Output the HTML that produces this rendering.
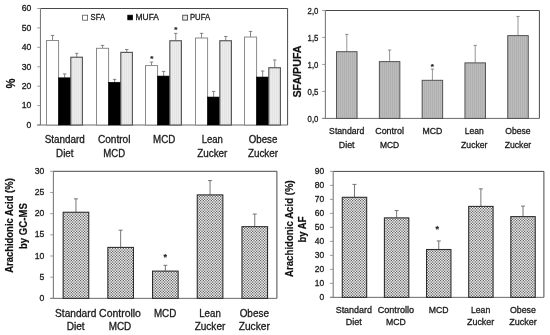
<!DOCTYPE html>
<html lang="en">
<head>
<meta charset="utf-8">
<title>Fatty acid composition charts</title>
<style>
html,body{margin:0;padding:0;background:#fff;}
body{width:550px;height:335px;overflow:hidden;}
svg{display:block;font-family:"Liberation Sans", sans-serif;}
</style>
</head>
<body>
<svg width="550" height="335" viewBox="0 0 550 335">
<defs>
<pattern id="pufa" width="2" height="2" patternUnits="userSpaceOnUse">
<rect width="2" height="2" fill="#ececec"/>
<rect width="1" height="2" fill="#e3e3e3"/>
</pattern>
<pattern id="vstripe" width="2" height="2" patternUnits="userSpaceOnUse">
<rect width="2" height="2" fill="#bcbcbc"/>
<rect width="1" height="2" fill="#b0b0b0"/>
</pattern>
<pattern id="check" width="8" height="8" patternUnits="userSpaceOnUse">
<rect width="8" height="8" fill="#f4f4f4"/>
<g fill="#4a4a4a"><rect x="0.092" y="0.092" width="1.150" height="1.150"/><rect x="1.425" y="1.425" width="1.150" height="1.150"/><rect x="0.092" y="2.758" width="1.150" height="1.150"/><rect x="1.425" y="4.092" width="1.150" height="1.150"/><rect x="0.092" y="5.425" width="1.150" height="1.150"/><rect x="1.425" y="6.758" width="1.150" height="1.150"/><rect x="2.758" y="0.092" width="1.150" height="1.150"/><rect x="4.092" y="1.425" width="1.150" height="1.150"/><rect x="2.758" y="2.758" width="1.150" height="1.150"/><rect x="4.092" y="4.092" width="1.150" height="1.150"/><rect x="2.758" y="5.425" width="1.150" height="1.150"/><rect x="4.092" y="6.758" width="1.150" height="1.150"/><rect x="5.425" y="0.092" width="1.150" height="1.150"/><rect x="6.758" y="1.425" width="1.150" height="1.150"/><rect x="5.425" y="2.758" width="1.150" height="1.150"/><rect x="6.758" y="4.092" width="1.150" height="1.150"/><rect x="5.425" y="5.425" width="1.150" height="1.150"/><rect x="6.758" y="6.758" width="1.150" height="1.150"/></g>
</pattern>
</defs>
<rect width="550" height="335" fill="#ffffff"/>
<polyline points="40.45,8.50 287.60,8.50 287.60,125.00" fill="none" stroke="#484848" stroke-width="1"/>
<line x1="40.45" y1="8.00" x2="40.45" y2="125.00" stroke="#7c7c7c" stroke-width="1.1"/>
<line x1="37.25" y1="125.00" x2="287.60" y2="125.00" stroke="#6a6a6a" stroke-width="1"/>
<line x1="37.25" y1="125.00" x2="40.45" y2="125.00" stroke="#8c8c8c" stroke-width="0.85"/>
<line x1="37.25" y1="105.58" x2="40.45" y2="105.58" stroke="#8c8c8c" stroke-width="0.85"/>
<line x1="37.25" y1="86.17" x2="40.45" y2="86.17" stroke="#8c8c8c" stroke-width="0.85"/>
<line x1="37.25" y1="66.75" x2="40.45" y2="66.75" stroke="#8c8c8c" stroke-width="0.85"/>
<line x1="37.25" y1="47.33" x2="40.45" y2="47.33" stroke="#8c8c8c" stroke-width="0.85"/>
<line x1="37.25" y1="27.92" x2="40.45" y2="27.92" stroke="#8c8c8c" stroke-width="0.85"/>
<line x1="37.25" y1="8.50" x2="40.45" y2="8.50" stroke="#8c8c8c" stroke-width="0.85"/>
<text x="31.40" y="127.90" font-size="8.8" text-anchor="end" fill="#1a1a1a" stroke="#1a1a1a" stroke-width="0.3" textLength="4.80" lengthAdjust="spacingAndGlyphs">0</text>
<text x="31.40" y="108.48" font-size="8.8" text-anchor="end" fill="#1a1a1a" stroke="#1a1a1a" stroke-width="0.3" textLength="9.60" lengthAdjust="spacingAndGlyphs">10</text>
<text x="31.40" y="89.07" font-size="8.8" text-anchor="end" fill="#1a1a1a" stroke="#1a1a1a" stroke-width="0.3" textLength="9.60" lengthAdjust="spacingAndGlyphs">20</text>
<text x="31.40" y="69.65" font-size="8.8" text-anchor="end" fill="#1a1a1a" stroke="#1a1a1a" stroke-width="0.3" textLength="9.60" lengthAdjust="spacingAndGlyphs">30</text>
<text x="31.40" y="50.23" font-size="8.8" text-anchor="end" fill="#1a1a1a" stroke="#1a1a1a" stroke-width="0.3" textLength="9.60" lengthAdjust="spacingAndGlyphs">40</text>
<text x="31.40" y="30.82" font-size="8.8" text-anchor="end" fill="#1a1a1a" stroke="#1a1a1a" stroke-width="0.3" textLength="9.60" lengthAdjust="spacingAndGlyphs">50</text>
<text x="31.40" y="11.40" font-size="8.8" text-anchor="end" fill="#1a1a1a" stroke="#1a1a1a" stroke-width="0.3" textLength="9.60" lengthAdjust="spacingAndGlyphs">60</text>
<line x1="52.55" y1="40.54" x2="52.55" y2="35.49" stroke="#777" stroke-width="0.9"/>
<line x1="50.85" y1="35.49" x2="54.25" y2="35.49" stroke="#777" stroke-width="0.9"/>
<rect x="46.50" y="40.54" width="12.10" height="84.46" fill="#ffffff" stroke="#858585" stroke-width="0.95"/>
<line x1="64.65" y1="77.82" x2="64.65" y2="73.93" stroke="#777" stroke-width="0.9"/>
<line x1="62.95" y1="73.93" x2="66.35" y2="73.93" stroke="#777" stroke-width="0.9"/>
<rect x="58.60" y="77.82" width="12.10" height="47.18" fill="#000000" stroke="#000000" stroke-width="0.6"/>
<line x1="76.75" y1="57.04" x2="76.75" y2="53.35" stroke="#777" stroke-width="0.9"/>
<line x1="75.05" y1="53.35" x2="78.45" y2="53.35" stroke="#777" stroke-width="0.9"/>
<rect x="70.80" y="57.24" width="11.60" height="67.76" fill="url(#pufa)" stroke="#555555" stroke-width="1.15"/>
<line x1="102.55" y1="48.30" x2="102.55" y2="45.39" stroke="#777" stroke-width="0.9"/>
<line x1="100.85" y1="45.39" x2="104.25" y2="45.39" stroke="#777" stroke-width="0.9"/>
<rect x="96.50" y="48.30" width="12.10" height="76.70" fill="#ffffff" stroke="#858585" stroke-width="0.95"/>
<line x1="114.65" y1="82.28" x2="114.65" y2="79.37" stroke="#777" stroke-width="0.9"/>
<line x1="112.95" y1="79.37" x2="116.35" y2="79.37" stroke="#777" stroke-width="0.9"/>
<rect x="108.60" y="82.28" width="12.10" height="42.72" fill="#000000" stroke="#000000" stroke-width="0.6"/>
<line x1="126.75" y1="52.19" x2="126.75" y2="49.47" stroke="#777" stroke-width="0.9"/>
<line x1="125.05" y1="49.47" x2="128.45" y2="49.47" stroke="#777" stroke-width="0.9"/>
<rect x="120.80" y="52.39" width="11.60" height="72.61" fill="url(#pufa)" stroke="#555555" stroke-width="1.15"/>
<line x1="151.55" y1="65.59" x2="151.55" y2="62.09" stroke="#777" stroke-width="0.9"/>
<line x1="149.85" y1="62.09" x2="153.25" y2="62.09" stroke="#777" stroke-width="0.9"/>
<rect x="145.50" y="65.59" width="12.10" height="59.41" fill="#ffffff" stroke="#858585" stroke-width="0.95"/>
<line x1="163.65" y1="76.07" x2="163.65" y2="71.41" stroke="#777" stroke-width="0.9"/>
<line x1="161.95" y1="71.41" x2="165.35" y2="71.41" stroke="#777" stroke-width="0.9"/>
<rect x="157.60" y="76.07" width="12.10" height="48.93" fill="#000000" stroke="#000000" stroke-width="0.6"/>
<line x1="175.75" y1="40.54" x2="175.75" y2="33.35" stroke="#777" stroke-width="0.9"/>
<line x1="174.05" y1="33.35" x2="177.45" y2="33.35" stroke="#777" stroke-width="0.9"/>
<rect x="169.80" y="40.74" width="11.60" height="84.26" fill="url(#pufa)" stroke="#555555" stroke-width="1.15"/>
<line x1="201.55" y1="38.01" x2="201.55" y2="33.35" stroke="#777" stroke-width="0.9"/>
<line x1="199.85" y1="33.35" x2="203.25" y2="33.35" stroke="#777" stroke-width="0.9"/>
<rect x="195.50" y="38.01" width="12.10" height="86.99" fill="#ffffff" stroke="#858585" stroke-width="0.95"/>
<line x1="213.65" y1="97.04" x2="213.65" y2="91.41" stroke="#777" stroke-width="0.9"/>
<line x1="211.95" y1="91.41" x2="215.35" y2="91.41" stroke="#777" stroke-width="0.9"/>
<rect x="207.60" y="97.04" width="12.10" height="27.96" fill="#000000" stroke="#000000" stroke-width="0.6"/>
<line x1="225.75" y1="40.54" x2="225.75" y2="36.46" stroke="#777" stroke-width="0.9"/>
<line x1="224.05" y1="36.46" x2="227.45" y2="36.46" stroke="#777" stroke-width="0.9"/>
<rect x="219.80" y="40.74" width="11.60" height="84.26" fill="url(#pufa)" stroke="#555555" stroke-width="1.15"/>
<line x1="250.55" y1="37.04" x2="250.55" y2="31.41" stroke="#777" stroke-width="0.9"/>
<line x1="248.85" y1="31.41" x2="252.25" y2="31.41" stroke="#777" stroke-width="0.9"/>
<rect x="244.50" y="37.04" width="12.10" height="87.96" fill="#ffffff" stroke="#858585" stroke-width="0.95"/>
<line x1="262.65" y1="77.04" x2="262.65" y2="71.02" stroke="#777" stroke-width="0.9"/>
<line x1="260.95" y1="71.02" x2="264.35" y2="71.02" stroke="#777" stroke-width="0.9"/>
<rect x="256.60" y="77.04" width="12.10" height="47.96" fill="#000000" stroke="#000000" stroke-width="0.6"/>
<line x1="274.75" y1="67.53" x2="274.75" y2="59.95" stroke="#777" stroke-width="0.9"/>
<line x1="273.05" y1="59.95" x2="276.45" y2="59.95" stroke="#777" stroke-width="0.9"/>
<rect x="268.80" y="67.73" width="11.60" height="57.27" fill="url(#pufa)" stroke="#555555" stroke-width="1.15"/>
<text x="151.80" y="61.30" font-size="8" text-anchor="middle" fill="#222" font-weight="bold" stroke="#222" stroke-width="0.2">*</text>
<text x="175.80" y="32.40" font-size="8" text-anchor="middle" fill="#222" font-weight="bold" stroke="#222" stroke-width="0.2">*</text>
<rect x="82.60" y="15.20" width="5.00" height="5.00" fill="#fff" stroke="#555" stroke-width="0.8"/>
<text x="90.60" y="20.10" font-size="8.6" text-anchor="start" fill="#1a1a1a" stroke="#1a1a1a" stroke-width="0.3" textLength="14.40" lengthAdjust="spacingAndGlyphs">SFA</text>
<rect x="127.80" y="15.20" width="4.60" height="4.60" fill="#000" stroke="#000" stroke-width="0.8"/>
<text x="135.60" y="20.10" font-size="8.6" text-anchor="start" fill="#1a1a1a" stroke="#1a1a1a" stroke-width="0.3" textLength="23.40" lengthAdjust="spacingAndGlyphs">MUFA</text>
<rect x="182.70" y="15.20" width="4.90" height="4.90" fill="url(#pufa)" stroke="#444" stroke-width="0.9"/>
<text x="190.00" y="20.10" font-size="8.6" text-anchor="start" fill="#1a1a1a" stroke="#1a1a1a" stroke-width="0.3" textLength="20.00" lengthAdjust="spacingAndGlyphs">PUFA</text>
<text x="15.20" y="83.50" font-size="12.4" text-anchor="middle" fill="#111" font-weight="bold" stroke="#111" stroke-width="0.2" textLength="10.00" lengthAdjust="spacingAndGlyphs" transform="rotate(-90 15.20 83.50)">%</text>
<text x="64.80" y="142.70" font-size="10.0" text-anchor="middle" fill="#1a1a1a" stroke="#1a1a1a" stroke-width="0.3" textLength="40.20" lengthAdjust="spacingAndGlyphs">Standard</text>
<text x="64.80" y="156.60" font-size="10.0" text-anchor="middle" fill="#1a1a1a" stroke="#1a1a1a" stroke-width="0.3" textLength="17.40" lengthAdjust="spacingAndGlyphs">Diet</text>
<text x="114.20" y="142.70" font-size="10.0" text-anchor="middle" fill="#1a1a1a" stroke="#1a1a1a" stroke-width="0.3" textLength="32.60" lengthAdjust="spacingAndGlyphs">Control</text>
<text x="114.20" y="156.60" font-size="10.0" text-anchor="middle" fill="#1a1a1a" stroke="#1a1a1a" stroke-width="0.3" textLength="21.80" lengthAdjust="spacingAndGlyphs">MCD</text>
<text x="164.20" y="142.70" font-size="10.0" text-anchor="middle" fill="#1a1a1a" stroke="#1a1a1a" stroke-width="0.3" textLength="22.20" lengthAdjust="spacingAndGlyphs">MCD</text>
<text x="212.30" y="142.70" font-size="10.0" text-anchor="middle" fill="#1a1a1a" stroke="#1a1a1a" stroke-width="0.3" textLength="21.20" lengthAdjust="spacingAndGlyphs">Lean</text>
<text x="212.30" y="156.60" font-size="10.0" text-anchor="middle" fill="#1a1a1a" stroke="#1a1a1a" stroke-width="0.3" textLength="30.20" lengthAdjust="spacingAndGlyphs">Zucker</text>
<text x="263.00" y="142.70" font-size="10.0" text-anchor="middle" fill="#1a1a1a" stroke="#1a1a1a" stroke-width="0.3" textLength="28.60" lengthAdjust="spacingAndGlyphs">Obese</text>
<text x="263.00" y="156.60" font-size="10.0" text-anchor="middle" fill="#1a1a1a" stroke="#1a1a1a" stroke-width="0.3" textLength="30.20" lengthAdjust="spacingAndGlyphs">Zucker</text>
<polyline points="325.40,10.50 539.40,10.50 539.40,118.40" fill="none" stroke="#484848" stroke-width="1"/>
<line x1="325.40" y1="10.00" x2="325.40" y2="118.40" stroke="#7c7c7c" stroke-width="1.1"/>
<line x1="322.20" y1="118.40" x2="539.40" y2="118.40" stroke="#6a6a6a" stroke-width="1"/>
<line x1="322.20" y1="118.40" x2="325.40" y2="118.40" stroke="#8c8c8c" stroke-width="0.85"/>
<line x1="322.20" y1="91.43" x2="325.40" y2="91.43" stroke="#8c8c8c" stroke-width="0.85"/>
<line x1="322.20" y1="64.45" x2="325.40" y2="64.45" stroke="#8c8c8c" stroke-width="0.85"/>
<line x1="322.20" y1="37.47" x2="325.40" y2="37.47" stroke="#8c8c8c" stroke-width="0.85"/>
<line x1="322.20" y1="10.50" x2="325.40" y2="10.50" stroke="#8c8c8c" stroke-width="0.85"/>
<text x="318.40" y="121.50" font-size="8.5" text-anchor="end" fill="#1a1a1a" stroke="#1a1a1a" stroke-width="0.3" textLength="10.80" lengthAdjust="spacingAndGlyphs">0,0</text>
<text x="318.40" y="94.53" font-size="8.5" text-anchor="end" fill="#1a1a1a" stroke="#1a1a1a" stroke-width="0.3" textLength="10.80" lengthAdjust="spacingAndGlyphs">0,5</text>
<text x="318.40" y="67.55" font-size="8.5" text-anchor="end" fill="#1a1a1a" stroke="#1a1a1a" stroke-width="0.3" textLength="10.80" lengthAdjust="spacingAndGlyphs">1,0</text>
<text x="318.40" y="40.57" font-size="8.5" text-anchor="end" fill="#1a1a1a" stroke="#1a1a1a" stroke-width="0.3" textLength="10.80" lengthAdjust="spacingAndGlyphs">1,5</text>
<text x="318.40" y="13.60" font-size="8.5" text-anchor="end" fill="#1a1a1a" stroke="#1a1a1a" stroke-width="0.3" textLength="10.80" lengthAdjust="spacingAndGlyphs">2,0</text>
<line x1="346.80" y1="51.50" x2="346.80" y2="34.40" stroke="#707070" stroke-width="0.75"/>
<line x1="345.10" y1="34.40" x2="348.50" y2="34.40" stroke="#707070" stroke-width="0.75"/>
<rect x="336.55" y="51.70" width="20.50" height="66.70" fill="url(#vstripe)" stroke="#4c4c4c" stroke-width="0.95"/>
<line x1="389.60" y1="61.43" x2="389.60" y2="50.05" stroke="#707070" stroke-width="0.75"/>
<line x1="387.90" y1="50.05" x2="391.30" y2="50.05" stroke="#707070" stroke-width="0.75"/>
<rect x="379.35" y="61.63" width="20.50" height="56.77" fill="url(#vstripe)" stroke="#4c4c4c" stroke-width="0.95"/>
<line x1="432.40" y1="80.10" x2="432.40" y2="69.04" stroke="#707070" stroke-width="0.75"/>
<line x1="430.70" y1="69.04" x2="434.10" y2="69.04" stroke="#707070" stroke-width="0.75"/>
<rect x="422.15" y="80.30" width="20.50" height="38.10" fill="url(#vstripe)" stroke="#4c4c4c" stroke-width="0.95"/>
<line x1="475.20" y1="62.67" x2="475.20" y2="45.41" stroke="#707070" stroke-width="0.75"/>
<line x1="473.50" y1="45.41" x2="476.90" y2="45.41" stroke="#707070" stroke-width="0.75"/>
<rect x="464.95" y="62.87" width="20.50" height="55.53" fill="url(#vstripe)" stroke="#4c4c4c" stroke-width="0.95"/>
<line x1="518.00" y1="35.42" x2="518.00" y2="16.43" stroke="#707070" stroke-width="0.75"/>
<line x1="516.30" y1="16.43" x2="519.70" y2="16.43" stroke="#707070" stroke-width="0.75"/>
<rect x="507.75" y="35.62" width="20.50" height="82.78" fill="url(#vstripe)" stroke="#4c4c4c" stroke-width="0.95"/>
<text x="432.20" y="68.60" font-size="8" text-anchor="middle" fill="#222" font-weight="bold" stroke="#222" stroke-width="0.2">*</text>
<text x="301.20" y="71.50" font-size="10.8" text-anchor="middle" fill="#111" font-weight="bold" stroke="#111" stroke-width="0.2" textLength="52.00" lengthAdjust="spacingAndGlyphs" transform="rotate(-90 301.20 71.50)">SFA/PUFA</text>
<text x="346.70" y="134.45" font-size="9.0" text-anchor="middle" fill="#1a1a1a" stroke="#1a1a1a" stroke-width="0.3" textLength="35.20" lengthAdjust="spacingAndGlyphs">Standard</text>
<text x="346.70" y="147.50" font-size="9.0" text-anchor="middle" fill="#1a1a1a" stroke="#1a1a1a" stroke-width="0.3" textLength="15.80" lengthAdjust="spacingAndGlyphs">Diet</text>
<text x="389.60" y="134.45" font-size="9.0" text-anchor="middle" fill="#1a1a1a" stroke="#1a1a1a" stroke-width="0.3" textLength="28.80" lengthAdjust="spacingAndGlyphs">Control</text>
<text x="389.60" y="147.50" font-size="9.0" text-anchor="middle" fill="#1a1a1a" stroke="#1a1a1a" stroke-width="0.3" textLength="19.20" lengthAdjust="spacingAndGlyphs">MCD</text>
<text x="432.40" y="134.45" font-size="9.0" text-anchor="middle" fill="#1a1a1a" stroke="#1a1a1a" stroke-width="0.3" textLength="19.80" lengthAdjust="spacingAndGlyphs">MCD</text>
<text x="474.30" y="134.45" font-size="9.0" text-anchor="middle" fill="#1a1a1a" stroke="#1a1a1a" stroke-width="0.3" textLength="19.00" lengthAdjust="spacingAndGlyphs">Lean</text>
<text x="474.30" y="147.50" font-size="9.0" text-anchor="middle" fill="#1a1a1a" stroke="#1a1a1a" stroke-width="0.3" textLength="26.40" lengthAdjust="spacingAndGlyphs">Zucker</text>
<text x="517.90" y="134.45" font-size="9.0" text-anchor="middle" fill="#1a1a1a" stroke="#1a1a1a" stroke-width="0.3" textLength="25.20" lengthAdjust="spacingAndGlyphs">Obese</text>
<text x="517.90" y="147.50" font-size="9.0" text-anchor="middle" fill="#1a1a1a" stroke="#1a1a1a" stroke-width="0.3" textLength="26.40" lengthAdjust="spacingAndGlyphs">Zucker</text>
<polyline points="53.40,171.30 276.90,171.30 276.90,298.35" fill="none" stroke="#484848" stroke-width="1"/>
<line x1="53.40" y1="170.80" x2="53.40" y2="298.35" stroke="#7c7c7c" stroke-width="1.1"/>
<line x1="50.20" y1="298.35" x2="276.90" y2="298.35" stroke="#6a6a6a" stroke-width="1"/>
<line x1="50.20" y1="298.35" x2="53.40" y2="298.35" stroke="#8c8c8c" stroke-width="0.85"/>
<line x1="50.20" y1="277.18" x2="53.40" y2="277.18" stroke="#8c8c8c" stroke-width="0.85"/>
<line x1="50.20" y1="256.00" x2="53.40" y2="256.00" stroke="#8c8c8c" stroke-width="0.85"/>
<line x1="50.20" y1="234.83" x2="53.40" y2="234.83" stroke="#8c8c8c" stroke-width="0.85"/>
<line x1="50.20" y1="213.65" x2="53.40" y2="213.65" stroke="#8c8c8c" stroke-width="0.85"/>
<line x1="50.20" y1="192.48" x2="53.40" y2="192.48" stroke="#8c8c8c" stroke-width="0.85"/>
<line x1="50.20" y1="171.30" x2="53.40" y2="171.30" stroke="#8c8c8c" stroke-width="0.85"/>
<text x="44.30" y="300.95" font-size="8.9" text-anchor="end" fill="#1a1a1a" stroke="#1a1a1a" stroke-width="0.3" textLength="4.80" lengthAdjust="spacingAndGlyphs">0</text>
<text x="44.30" y="279.78" font-size="8.9" text-anchor="end" fill="#1a1a1a" stroke="#1a1a1a" stroke-width="0.3" textLength="4.80" lengthAdjust="spacingAndGlyphs">5</text>
<text x="44.30" y="258.60" font-size="8.9" text-anchor="end" fill="#1a1a1a" stroke="#1a1a1a" stroke-width="0.3" textLength="9.60" lengthAdjust="spacingAndGlyphs">10</text>
<text x="44.30" y="237.43" font-size="8.9" text-anchor="end" fill="#1a1a1a" stroke="#1a1a1a" stroke-width="0.3" textLength="9.60" lengthAdjust="spacingAndGlyphs">15</text>
<text x="44.30" y="216.25" font-size="8.9" text-anchor="end" fill="#1a1a1a" stroke="#1a1a1a" stroke-width="0.3" textLength="9.60" lengthAdjust="spacingAndGlyphs">20</text>
<text x="44.30" y="195.08" font-size="8.9" text-anchor="end" fill="#1a1a1a" stroke="#1a1a1a" stroke-width="0.3" textLength="9.60" lengthAdjust="spacingAndGlyphs">25</text>
<text x="44.30" y="173.90" font-size="8.9" text-anchor="end" fill="#1a1a1a" stroke="#1a1a1a" stroke-width="0.3" textLength="9.60" lengthAdjust="spacingAndGlyphs">30</text>
<line x1="75.95" y1="211.96" x2="75.95" y2="198.83" stroke="#666" stroke-width="0.9"/>
<line x1="73.95" y1="198.83" x2="77.95" y2="198.83" stroke="#666" stroke-width="0.9"/>
<rect x="63.15" y="212.26" width="25.60" height="86.09" fill="url(#check)" stroke="#2e2e2e" stroke-width="1.1"/>
<line x1="120.65" y1="247.11" x2="120.65" y2="230.17" stroke="#666" stroke-width="0.9"/>
<line x1="118.65" y1="230.17" x2="122.65" y2="230.17" stroke="#666" stroke-width="0.9"/>
<rect x="107.85" y="247.41" width="25.60" height="50.94" fill="url(#check)" stroke="#2e2e2e" stroke-width="1.1"/>
<line x1="165.35" y1="270.82" x2="165.35" y2="265.32" stroke="#666" stroke-width="0.9"/>
<line x1="163.35" y1="265.32" x2="167.35" y2="265.32" stroke="#666" stroke-width="0.9"/>
<rect x="152.55" y="271.12" width="25.60" height="27.23" fill="url(#check)" stroke="#2e2e2e" stroke-width="1.1"/>
<line x1="210.05" y1="194.59" x2="210.05" y2="180.62" stroke="#666" stroke-width="0.9"/>
<line x1="208.05" y1="180.62" x2="212.05" y2="180.62" stroke="#666" stroke-width="0.9"/>
<rect x="197.25" y="194.89" width="25.60" height="103.46" fill="url(#check)" stroke="#2e2e2e" stroke-width="1.1"/>
<line x1="254.75" y1="226.36" x2="254.75" y2="214.07" stroke="#666" stroke-width="0.9"/>
<line x1="252.75" y1="214.07" x2="256.75" y2="214.07" stroke="#666" stroke-width="0.9"/>
<rect x="241.95" y="226.66" width="25.60" height="71.70" fill="url(#check)" stroke="#2e2e2e" stroke-width="1.1"/>
<text x="165.30" y="259.70" font-size="9" text-anchor="middle" fill="#222" font-weight="bold" stroke="#222" stroke-width="0.2">*</text>
<text x="12.70" y="225.50" font-size="10.6" text-anchor="middle" fill="#111" font-weight="bold" stroke="#111" stroke-width="0.2" textLength="94.60" lengthAdjust="spacingAndGlyphs" transform="rotate(-90 12.70 225.50)">Arachidonic Acid (%)</text>
<text x="26.70" y="226.10" font-size="10.6" text-anchor="middle" fill="#111" font-weight="bold" stroke="#111" stroke-width="0.2" textLength="45.80" lengthAdjust="spacingAndGlyphs" transform="rotate(-90 26.70 226.10)">by GC-MS</text>
<text x="75.70" y="316.60" font-size="10.4" text-anchor="middle" fill="#1a1a1a" stroke="#1a1a1a" stroke-width="0.3" textLength="41.20" lengthAdjust="spacingAndGlyphs">Standard</text>
<text x="75.70" y="330.00" font-size="10.4" text-anchor="middle" fill="#1a1a1a" stroke="#1a1a1a" stroke-width="0.3" textLength="18.00" lengthAdjust="spacingAndGlyphs">Diet</text>
<text x="120.00" y="316.60" font-size="10.4" text-anchor="middle" fill="#1a1a1a" stroke="#1a1a1a" stroke-width="0.3" textLength="41.80" lengthAdjust="spacingAndGlyphs">Controllo</text>
<text x="120.00" y="330.00" font-size="10.4" text-anchor="middle" fill="#1a1a1a" stroke="#1a1a1a" stroke-width="0.3" textLength="22.60" lengthAdjust="spacingAndGlyphs">MCD</text>
<text x="165.10" y="316.60" font-size="10.4" text-anchor="middle" fill="#1a1a1a" stroke="#1a1a1a" stroke-width="0.3" textLength="22.40" lengthAdjust="spacingAndGlyphs">MCD</text>
<text x="210.00" y="316.60" font-size="10.4" text-anchor="middle" fill="#1a1a1a" stroke="#1a1a1a" stroke-width="0.3" textLength="21.60" lengthAdjust="spacingAndGlyphs">Lean</text>
<text x="210.00" y="330.00" font-size="10.4" text-anchor="middle" fill="#1a1a1a" stroke="#1a1a1a" stroke-width="0.3" textLength="30.60" lengthAdjust="spacingAndGlyphs">Zucker</text>
<text x="254.30" y="316.60" font-size="10.4" text-anchor="middle" fill="#1a1a1a" stroke="#1a1a1a" stroke-width="0.3" textLength="29.30" lengthAdjust="spacingAndGlyphs">Obese</text>
<text x="254.30" y="330.00" font-size="10.4" text-anchor="middle" fill="#1a1a1a" stroke="#1a1a1a" stroke-width="0.3" textLength="31.10" lengthAdjust="spacingAndGlyphs">Zucker</text>
<polyline points="333.20,171.40 543.90,171.40 543.90,297.35" fill="none" stroke="#484848" stroke-width="1"/>
<line x1="333.20" y1="170.90" x2="333.20" y2="297.35" stroke="#7c7c7c" stroke-width="1.1"/>
<line x1="330.00" y1="297.35" x2="543.90" y2="297.35" stroke="#6a6a6a" stroke-width="1"/>
<line x1="330.00" y1="297.35" x2="333.20" y2="297.35" stroke="#8c8c8c" stroke-width="0.85"/>
<line x1="330.00" y1="283.36" x2="333.20" y2="283.36" stroke="#8c8c8c" stroke-width="0.85"/>
<line x1="330.00" y1="269.36" x2="333.20" y2="269.36" stroke="#8c8c8c" stroke-width="0.85"/>
<line x1="330.00" y1="255.37" x2="333.20" y2="255.37" stroke="#8c8c8c" stroke-width="0.85"/>
<line x1="330.00" y1="241.37" x2="333.20" y2="241.37" stroke="#8c8c8c" stroke-width="0.85"/>
<line x1="330.00" y1="227.38" x2="333.20" y2="227.38" stroke="#8c8c8c" stroke-width="0.85"/>
<line x1="330.00" y1="213.38" x2="333.20" y2="213.38" stroke="#8c8c8c" stroke-width="0.85"/>
<line x1="330.00" y1="199.39" x2="333.20" y2="199.39" stroke="#8c8c8c" stroke-width="0.85"/>
<line x1="330.00" y1="185.39" x2="333.20" y2="185.39" stroke="#8c8c8c" stroke-width="0.85"/>
<line x1="330.00" y1="171.40" x2="333.20" y2="171.40" stroke="#8c8c8c" stroke-width="0.85"/>
<text x="324.10" y="300.25" font-size="8.8" text-anchor="end" fill="#1a1a1a" stroke="#1a1a1a" stroke-width="0.3" textLength="4.70" lengthAdjust="spacingAndGlyphs">0</text>
<text x="324.10" y="286.26" font-size="8.8" text-anchor="end" fill="#1a1a1a" stroke="#1a1a1a" stroke-width="0.3" textLength="9.40" lengthAdjust="spacingAndGlyphs">10</text>
<text x="324.10" y="272.26" font-size="8.8" text-anchor="end" fill="#1a1a1a" stroke="#1a1a1a" stroke-width="0.3" textLength="9.40" lengthAdjust="spacingAndGlyphs">20</text>
<text x="324.10" y="258.27" font-size="8.8" text-anchor="end" fill="#1a1a1a" stroke="#1a1a1a" stroke-width="0.3" textLength="9.40" lengthAdjust="spacingAndGlyphs">30</text>
<text x="324.10" y="244.27" font-size="8.8" text-anchor="end" fill="#1a1a1a" stroke="#1a1a1a" stroke-width="0.3" textLength="9.40" lengthAdjust="spacingAndGlyphs">40</text>
<text x="324.10" y="230.28" font-size="8.8" text-anchor="end" fill="#1a1a1a" stroke="#1a1a1a" stroke-width="0.3" textLength="9.40" lengthAdjust="spacingAndGlyphs">50</text>
<text x="324.10" y="216.28" font-size="8.8" text-anchor="end" fill="#1a1a1a" stroke="#1a1a1a" stroke-width="0.3" textLength="9.40" lengthAdjust="spacingAndGlyphs">60</text>
<text x="324.10" y="202.29" font-size="8.8" text-anchor="end" fill="#1a1a1a" stroke="#1a1a1a" stroke-width="0.3" textLength="9.40" lengthAdjust="spacingAndGlyphs">70</text>
<text x="324.10" y="188.29" font-size="8.8" text-anchor="end" fill="#1a1a1a" stroke="#1a1a1a" stroke-width="0.3" textLength="9.40" lengthAdjust="spacingAndGlyphs">80</text>
<text x="324.10" y="174.30" font-size="8.8" text-anchor="end" fill="#1a1a1a" stroke="#1a1a1a" stroke-width="0.3" textLength="9.40" lengthAdjust="spacingAndGlyphs">90</text>
<line x1="354.47" y1="197.01" x2="354.47" y2="184.41" stroke="#666" stroke-width="0.9"/>
<line x1="352.47" y1="184.41" x2="356.47" y2="184.41" stroke="#666" stroke-width="0.9"/>
<rect x="342.27" y="197.31" width="24.40" height="100.04" fill="url(#check)" stroke="#2e2e2e" stroke-width="1.1"/>
<line x1="396.61" y1="217.58" x2="396.61" y2="210.58" stroke="#666" stroke-width="0.9"/>
<line x1="394.61" y1="210.58" x2="398.61" y2="210.58" stroke="#666" stroke-width="0.9"/>
<rect x="384.41" y="217.88" width="24.40" height="79.47" fill="url(#check)" stroke="#2e2e2e" stroke-width="1.1"/>
<line x1="438.75" y1="249.21" x2="438.75" y2="240.95" stroke="#666" stroke-width="0.9"/>
<line x1="436.75" y1="240.95" x2="440.75" y2="240.95" stroke="#666" stroke-width="0.9"/>
<rect x="426.55" y="249.51" width="24.40" height="47.84" fill="url(#check)" stroke="#2e2e2e" stroke-width="1.1"/>
<line x1="480.89" y1="206.11" x2="480.89" y2="188.89" stroke="#666" stroke-width="0.9"/>
<line x1="478.89" y1="188.89" x2="482.89" y2="188.89" stroke="#666" stroke-width="0.9"/>
<rect x="468.69" y="206.41" width="24.40" height="90.94" fill="url(#check)" stroke="#2e2e2e" stroke-width="1.1"/>
<line x1="523.03" y1="216.32" x2="523.03" y2="206.11" stroke="#666" stroke-width="0.9"/>
<line x1="521.03" y1="206.11" x2="525.03" y2="206.11" stroke="#666" stroke-width="0.9"/>
<rect x="510.83" y="216.62" width="24.40" height="80.73" fill="url(#check)" stroke="#2e2e2e" stroke-width="1.1"/>
<text x="437.20" y="231.90" font-size="9" text-anchor="middle" fill="#222" font-weight="bold" stroke="#222" stroke-width="0.2">*</text>
<text x="292.70" y="228.60" font-size="10.6" text-anchor="middle" fill="#111" font-weight="bold" stroke="#111" stroke-width="0.2" textLength="96.80" lengthAdjust="spacingAndGlyphs" transform="rotate(-90 292.70 228.60)">Arachidonic Acid (%)</text>
<text x="305.70" y="229.50" font-size="10.6" text-anchor="middle" fill="#111" font-weight="bold" stroke="#111" stroke-width="0.2" textLength="25.80" lengthAdjust="spacingAndGlyphs" transform="rotate(-90 305.70 229.50)">by AF</text>
<text x="353.80" y="312.60" font-size="9.2" text-anchor="middle" fill="#1a1a1a" stroke="#1a1a1a" stroke-width="0.3" textLength="36.20" lengthAdjust="spacingAndGlyphs">Standard</text>
<text x="353.80" y="324.50" font-size="9.2" text-anchor="middle" fill="#1a1a1a" stroke="#1a1a1a" stroke-width="0.3" textLength="16.00" lengthAdjust="spacingAndGlyphs">Diet</text>
<text x="395.90" y="312.60" font-size="9.2" text-anchor="middle" fill="#1a1a1a" stroke="#1a1a1a" stroke-width="0.3" textLength="36.40" lengthAdjust="spacingAndGlyphs">Controllo</text>
<text x="395.90" y="324.50" font-size="9.2" text-anchor="middle" fill="#1a1a1a" stroke="#1a1a1a" stroke-width="0.3" textLength="19.80" lengthAdjust="spacingAndGlyphs">MCD</text>
<text x="438.70" y="312.60" font-size="9.2" text-anchor="middle" fill="#1a1a1a" stroke="#1a1a1a" stroke-width="0.3" textLength="19.80" lengthAdjust="spacingAndGlyphs">MCD</text>
<text x="480.60" y="312.60" font-size="9.2" text-anchor="middle" fill="#1a1a1a" stroke="#1a1a1a" stroke-width="0.3" textLength="19.30" lengthAdjust="spacingAndGlyphs">Lean</text>
<text x="480.60" y="324.50" font-size="9.2" text-anchor="middle" fill="#1a1a1a" stroke="#1a1a1a" stroke-width="0.3" textLength="27.20" lengthAdjust="spacingAndGlyphs">Zucker</text>
<text x="522.90" y="312.60" font-size="9.2" text-anchor="middle" fill="#1a1a1a" stroke="#1a1a1a" stroke-width="0.3" textLength="26.00" lengthAdjust="spacingAndGlyphs">Obese</text>
<text x="522.90" y="324.50" font-size="9.2" text-anchor="middle" fill="#1a1a1a" stroke="#1a1a1a" stroke-width="0.3" textLength="27.50" lengthAdjust="spacingAndGlyphs">Zucker</text>
</svg>
</body>
</html>
